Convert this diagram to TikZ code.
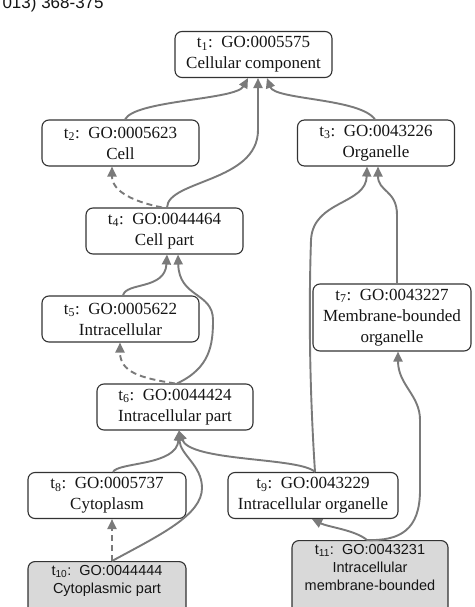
\documentclass[tikz,border=0pt]{standalone}
\usepackage{fontspec}
\setmainfont{Liberation Serif}
\setsansfont{Liberation Sans}
\usetikzlibrary{arrows.meta}
\definecolor{BoxLine}{HTML}{333333}
\definecolor{EdgeGrey}{HTML}{7A7A7A}
\definecolor{LeafFill}{HTML}{D9D9D9}
\definecolor{InkBlack}{HTML}{151515}

\begin{document}
\begin{tikzpicture}[x=1pt,y=-1pt,>={Triangle[length=10pt,width=9pt]},
 term/.style={draw=BoxLine,line width=1.1pt,fill=white,rounded corners=7pt,align=center,minimum width=157pt,minimum height=46pt,inner sep=2pt,text=InkBlack,font=\fontsize{17}{21}\selectfont},
 leaf/.style={term,fill=LeafFill,anchor=north,inner sep=4pt,font=\sffamily\fontsize{14.5}{18}\selectfont},
 isa/.style={EdgeGrey,line width=1.9pt,->},
 partof/.style={isa,dash pattern=on 6pt off 4pt}]
\useasboundingbox (0,0) rectangle (474,607); \clip (0,0) rectangle (474,607); \fill[white] (0,0) rectangle (474,607);
\node[anchor=base west,font=\sffamily\fontsize{17}{17}\selectfont,text=InkBlack] (src) at (-1,9) {013) 368-375};
% terms
\node[term] (t1) at (253.5,54.5) {t\textsubscript{1}:\ \ GO:0005575\\Cellular component};
\node[term] (t2) at (120.5,143) {t\textsubscript{2}:\ \ GO:0005623\\Cell};
\node[term] (t3) at (376,143) {t\textsubscript{3}:\ \ GO:0043226\\Organelle};
\node[term] (t4) at (164.5,231) {t\textsubscript{4}:\ \ GO:0044464\\Cell part};
\node[term] (t5) at (120.5,319) {t\textsubscript{5}:\ \ GO:0005622\\Intracellular};
\node[term,minimum width=158pt,minimum height=67pt] (t7) at (392,317.5) {t\textsubscript{7}:\ \ GO:0043227\\Membrane-bounded\\organelle};
\node[term,minimum width=156pt] (t6) at (175,407) {t\textsubscript{6}:\ \ GO:0044424\\Intracellular part};
\node[term,minimum width=158pt] (t8) at (107,495.5) {t\textsubscript{8}:\ \ GO:0005737\\Cytoplasm};
\node[term,minimum width=170pt] (t9) at (313,495.5) {t\textsubscript{9}:\ \ GO:0043229\\Intracellular organelle};
\node[leaf,minimum width=158pt] (t10) at (107,561) {t\textsubscript{10}:\ \ GO:0044444\\Cytoplasmic part\\\strut};
\node[leaf,minimum width=156pt] (t11) at (370,540) {t\textsubscript{11}:\ \ GO:0043231\\Intracellular\\membrane-bounded\\\strut};
% relations
\draw[isa] ([xshift=4.5pt]t2.north) .. controls (135,100) and (236,100) .. ([xshift=-5.5pt]t1.south);
\draw[isa] ([xshift=2.5pt]t4.north) .. controls (168,180) and (258,182) .. (258,130) -- ([xshift=4.5pt]t1.south);
\draw[isa] ([xshift=-1pt]t3.north) .. controls (360,98) and (275,100) .. ([xshift=13.5pt]t1.south);
\draw[partof] ([xshift=-2.5pt]t4.north) .. controls (135,202) and (112,192) .. ([xshift=-8.5pt]t2.south);
\draw[isa] ([xshift=2pt]t9.north) .. controls (309,380) and (309,300) .. (311,240) .. controls (313,200) and (366,205) .. ([xshift=-9pt]t3.south);
\draw[isa] ([xshift=5pt]t7.north) -- (397,215) .. controls (397,190) and (378,192) .. ([xshift=2pt]t3.south);
\draw[isa] ([xshift=2.5pt]t5.north) .. controls (126,282) and (165,290) .. ([xshift=2.5pt]t4.south);
\draw[isa] ([xshift=2pt]t6.north) .. controls (210,368) and (213,345) .. (213,320) .. controls (213,292) and (179,298) .. ([xshift=13.5pt]t4.south);
\draw[partof] (t6.north) .. controls (140,378) and (120,372) .. ([xshift=-0.5pt]t5.south);
\draw[isa] ([xshift=6pt]t8.north) .. controls (118,462) and (177,466) .. ([xshift=4pt]t6.south);
\draw[isa] ([xshift=2pt]t9.north) .. controls (300,457) and (190,462) .. ([xshift=4pt]t6.south);
\draw[isa] ([xshift=5pt]t10.north) .. controls (160,535) and (202,515) .. (202,488) .. controls (202,465) and (180,455) .. ([xshift=4pt]t6.south);
\draw[partof] ([xshift=5pt]t10.north) -- ([xshift=5pt]t8.south);
\draw[isa] ([xshift=-3pt]t11.north) .. controls (355,530) and (328,527) .. ([xshift=-1pt]t9.south);
\draw[isa] ([xshift=-3pt]t11.north) .. controls (400,541) and (420,530) .. (420,490) -- (420,420) .. controls (420,395) and (398,385) .. ([xshift=6pt]t7.south);
\end{tikzpicture}
\end{document}
